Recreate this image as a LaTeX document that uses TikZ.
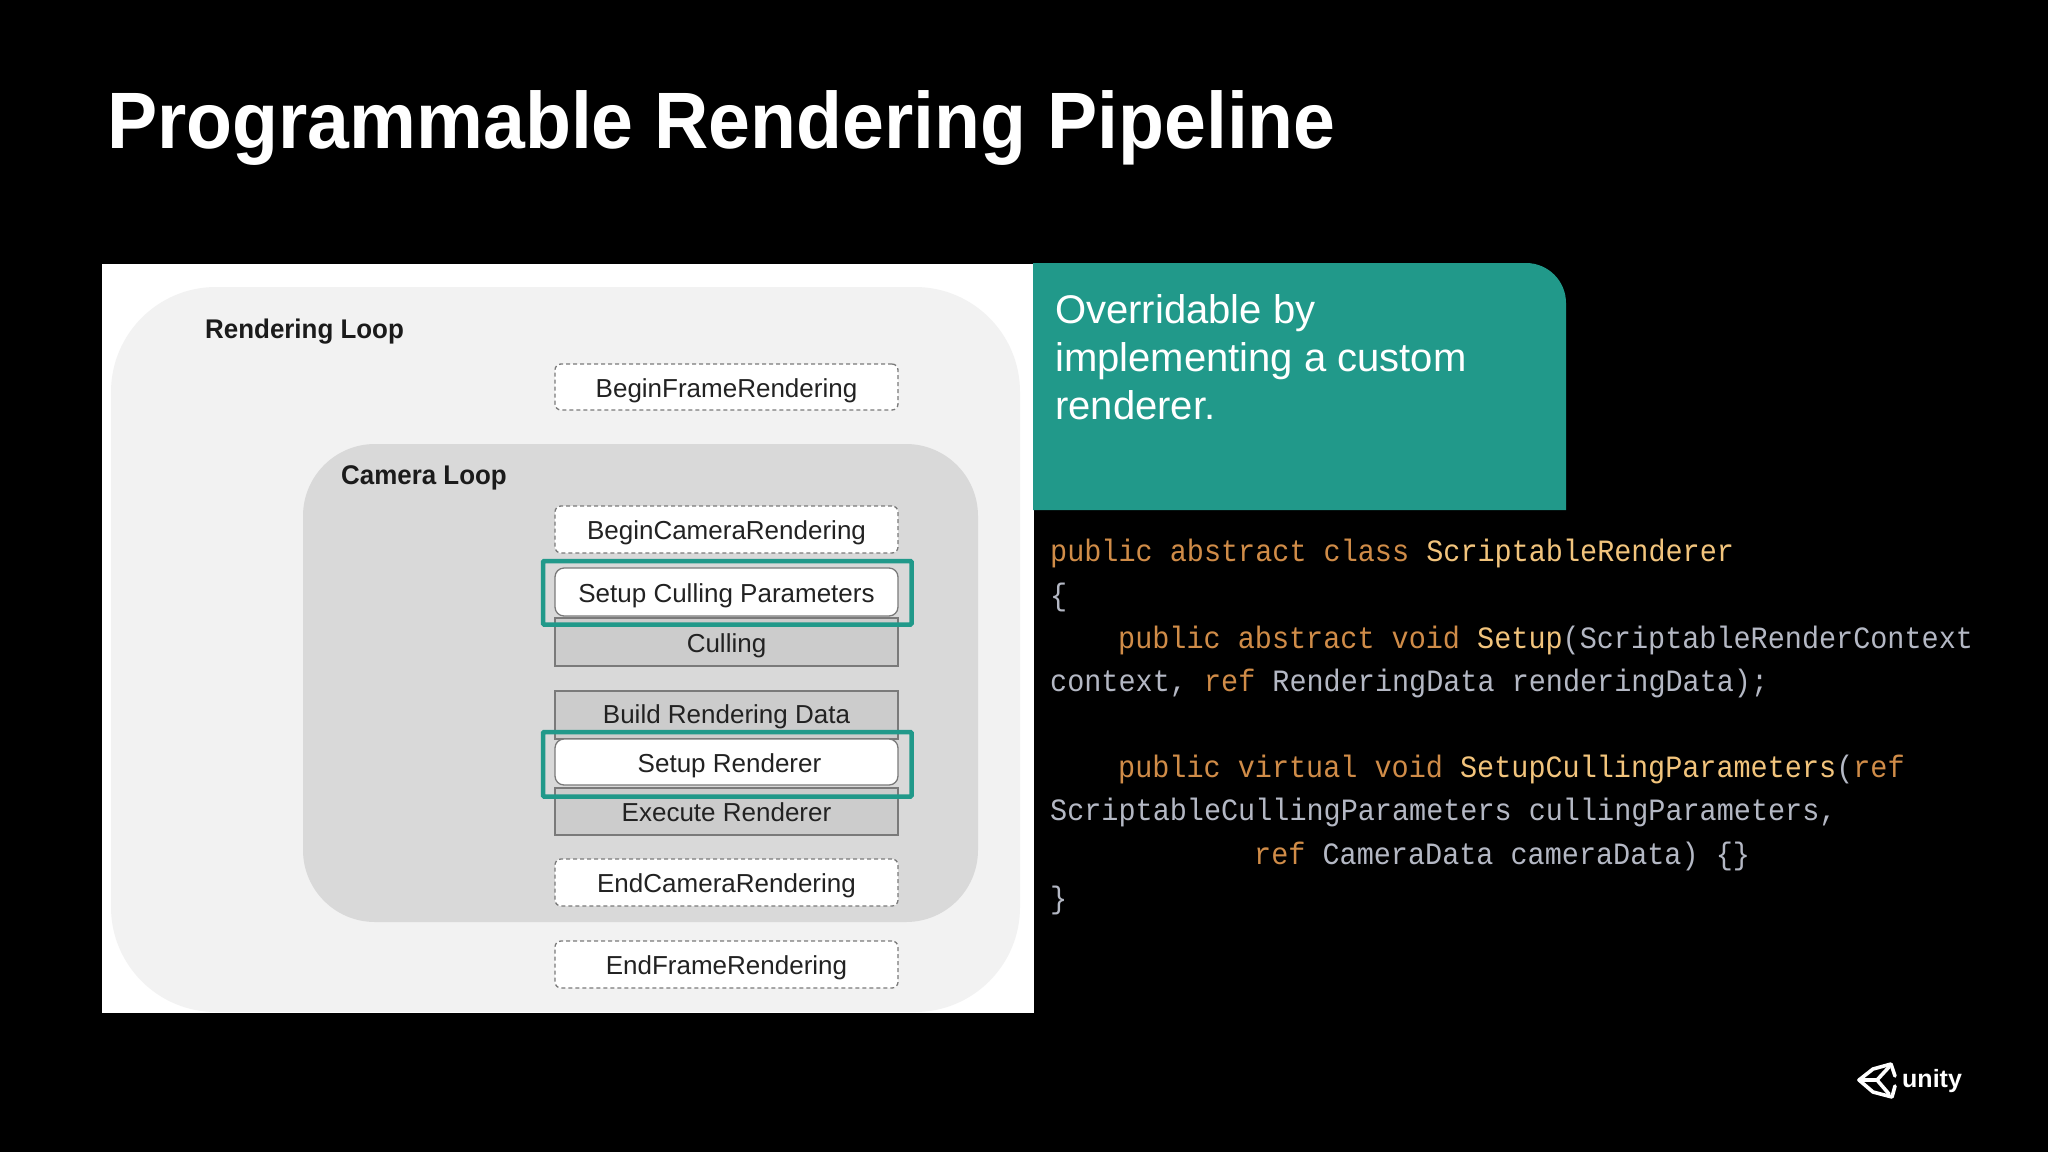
\documentclass[tikz,border=0pt]{standalone}
\usepackage{fontspec}
\setmainfont{Liberation Sans}
\newfontfamily\codefont[FakeStretch=0.919]{Liberation Mono}
\newfontfamily\titlefont[FakeStretch=0.94,BoldFont={Liberation Sans Bold}]{Liberation Sans Bold}
\newfontfamily\loopfont[FakeStretch=0.96]{Liberation Sans Bold}
\usetikzlibrary{positioning}
\definecolor{tealc}{HTML}{21998A}
\definecolor{kwc}{HTML}{D08C48}
\definecolor{typec}{HTML}{F2C47C}
\definecolor{plainc}{HTML}{B4B8C4}
\definecolor{boxline}{HTML}{7A7A7A}
\definecolor{labc}{HTML}{222222}
\newcommand{\kw}[1]{\textcolor{kwc}{#1}}
\newcommand{\ty}[1]{\textcolor{typec}{#1}}
\newcommand{\bp}[1]{\fontsize{#1}{#1}\selectfont}
\tikzset{
  x=1pt,y=-1pt,
  boxbase/.style={minimum width=343pt,inner sep=0pt,text=labc,font=\bp{26},text height=20pt,text depth=0pt,line width=1.3pt,draw=boxline},
  dashbox/.style={boxbase,fill=white,rounded corners=6pt,dashed,dash pattern=on 4pt off 3pt},
  whitebox/.style={boxbase,fill=white,rounded corners=9pt},
  greybox/.style={boxbase,fill=black!20},
  hilite/.style={draw=tealc,line width=4.5pt,fill=none,rounded corners=1pt},
  looplabel/.style={anchor=base west,inner sep=0pt,font=\loopfont\bp{27},text=labc!80!black},
  codeline/.style={anchor=base west,inner sep=0pt,font=\codefont\bp{31},text=plainc},
  calloutline/.style={anchor=base west,inner sep=0pt,font=\bp{40},text=white},
  logoline/.style={draw=white,line width=3.6pt,line join=round,line cap=round}
}
\begin{document}
\begin{tikzpicture}
\useasboundingbox (0,0) rectangle (2048,1152);
\fill[black] (0,0) rectangle (2048,1152);
\node[anchor=base west,inner sep=0pt,text=white,font=\titlefont\bp{80}] (title) at (107,148) {Programmable Rendering Pipeline};
% diagram panel
\fill[white] (102,264) rectangle (1034,1013);
\fill[black!5,rounded corners=105pt] (111,287) rectangle (1020,1012);
\fill[black!15,rounded corners=72pt] (303,444) rectangle (978,922);
\node[looplabel] (rl) at (205,338) {Rendering Loop};
\node[looplabel] (cl) at (341,484) {Camera Loop};
\node[dashbox,minimum height=46pt] (bf) at (726.5,387) {BeginFrameRendering};
\node[dashbox,minimum height=47pt] (bc) at (726.5,529.5) {BeginCameraRendering};
\node[greybox,minimum height=48pt] (cu) at (726.5,642) {Culling};
\node[whitebox,minimum height=48pt] (sc) at (726.5,592) {Setup Culling Parameters};
\node[greybox,minimum height=48pt,text depth=3.5pt] (bd) at (726.5,715) {Build Rendering Data};
\node[greybox,minimum height=47pt] (ex) at (726.5,811.5) {Execute Renderer};
\node[whitebox,minimum height=46pt] (sr) at (726.5,762) {\hspace*{6pt}Setup Renderer};
\node[dashbox,minimum height=47pt] (ec) at (726.5,882.5) {EndCameraRendering};
\node[dashbox,minimum height=47pt] (ef) at (726.5,964.5) {EndFrameRendering};
\draw[hilite] (543,561) rectangle (911.5,624.5);
\draw[hilite] (543,732) rectangle (911.5,796.5);
% callout
\fill[tealc] (1033,263) -- (1526,263) arc[start angle=90,end angle=0,radius=40pt] -- (1566,510) -- (1033,510) -- cycle;
\node[calloutline] (c1) at (1055,323) {Overridable by};
\node[calloutline] (c2) at (1055,371) {implementing a custom};
\node[calloutline] (c3) at (1055,419) {renderer.};
% code
\node[codeline] (l1) at (1050,561.5) {\kw{public abstract class} \ty{ScriptableRenderer}};
\node[codeline] (l2) at (1050,605) {\{};
\node[codeline] (l3) at (1118,648) {\kw{public abstract void} \ty{Setup}(ScriptableRenderContext};
\node[codeline] (l4) at (1050,691) {context, \kw{ref} RenderingData renderingData);};
\node[codeline] (l5) at (1118,777) {\kw{public virtual void} \ty{SetupCullingParameters}(\kw{ref}};
\node[codeline] (l6) at (1050,820.5) {ScriptableCullingParameters cullingParameters,};
\node[codeline] (l7) at (1254,864) {\kw{ref} CameraData cameraData) \{\}};
\node[codeline] (l8) at (1050,908) {\}};
% unity logo
\draw[logoline] (1859,1080) -- (1873,1069) -- (1891,1064) -- (1895,1076);
\draw[logoline] (1859,1080) -- (1873,1092) -- (1892,1097) -- (1895,1086);
\draw[logoline] (1859,1080) -- (1877,1080) -- (1889,1067);
\draw[logoline] (1877,1080) -- (1889,1094);
\node[anchor=base west,inner sep=0pt,text=white,font=\bfseries\bp{25}] (un) at (1902,1087) {unity};
\end{tikzpicture}
\end{document}
